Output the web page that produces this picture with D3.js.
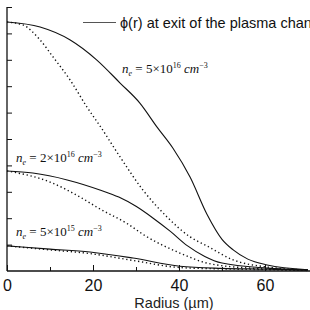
<!DOCTYPE html>
<html><head><meta charset="utf-8">
<script src="https://cdn.jsdelivr.net/npm/d3@7/dist/d3.min.js"></script>
<style>body{margin:0;background:#fff}svg{display:block}</style>
</head><body>
<svg id="c" width="310" height="310"></svg>
<script>
// Radius (µm) and phi values (arbitrary units, 0..10 axis)
const hiSolidR = [0, 7.7, 14.7, 20.9, 26.3, 30.9, 34.9, 38.6, 42.6, 46.5, 50, 52.6, 56, 60.5, 70];
const hiSolidV = [9.43, 9.24, 8.75, 7.99, 7.12, 6.36, 5.45, 4.65, 3.55, 2.15, 1.2, 0.80, 0.45, 0.23, 0.05];
const hiDotR = [0, 3.7, 7.7, 10.7, 14.7, 18.6, 21.6, 26.3, 31.6, 37.2, 42.6, 46.5, 52.6, 60.5, 70];
const hiDotV = [9.43, 9.32, 8.75, 8.11, 7.23, 6.21, 5.50, 4.32, 3.07, 2.05, 1.29, 0.95, 0.42, 0.15, 0.04];
const midSolidR = [0, 6.0, 14.0, 21.6, 26, 30, 34, 38, 42, 46, 50, 60.5, 70];
const midSolidV = [3.79, 3.71, 3.45, 3.07, 2.80, 2.45, 2.0, 1.5, 0.95, 0.55, 0.30, 0.11, 0.04];
const midDotR = [0, 10.0, 17.0, 21.6, 27.9, 32.0, 40.2, 46.5, 56.5, 70];
const midDotV = [3.79, 3.37, 2.80, 2.35, 1.80, 1.35, 0.68, 0.30, 0.11, 0.03];
const loSolidR = [0, 10, 19.3, 29.3, 40.2, 50, 60.5, 70];
const loSolidV = [0.95, 0.83, 0.72, 0.49, 0.18, 0.10, 0.07, 0.03];
const loDotR = [0, 10, 19.3, 29.3, 40.2, 50, 60.5, 70];
const loDotV = [0.95, 0.80, 0.66, 0.40, 0.13, 0.08, 0.05, 0.02];
const xTicks = [0, 20, 40, 60];
const xMinor = [10, 30, 50];
const yTicks = [1, 2, 3, 4, 5, 6, 7, 8, 9, 10];
const legendLabel = "ϕ(r) at exit of the plasma channel";
const xLabel = "Radius (µm)";

const svg = d3.select("#c");
const x = d3.scaleLinear().domain([0, 70]).range([7, 308]);
const y = d3.scaleLinear().domain([0, 10]).range([271, 7]);

const line = d3.line().x(d => x(d[0])).y(d => y(d[1])).curve(d3.curveMonotoneX);
const zip = (a, b) => a.map((v, i) => [v, b[i]]);

const series = [
  [hiSolidR, hiSolidV, false], [hiDotR, hiDotV, true],
  [midSolidR, midSolidV, false], [midDotR, midDotV, true],
  [loSolidR, loSolidV, false], [loDotR, loDotV, true]
];
const g = svg.append("g");
series.forEach(([r, v, dot]) => {
  g.append("path").attr("d", line(zip(r, v)))
    .attr("fill", "none").attr("stroke", "#111")
    .attr("stroke-width", dot ? 1.4 : 1.1)
    .attr("stroke-dasharray", dot ? "1.3,2.7" : null);
});

// axes
const xa = svg.append("g").attr("transform", "translate(0,271)")
  .call(d3.axisBottom(x).tickValues(xTicks).tickSize(-6).tickPadding(9).tickFormat(d3.format("d")));
xa.select(".domain").attr("d", "M7,0H310").attr("stroke", "#111").attr("stroke-width", 1.3);
xa.selectAll(".tick line").attr("stroke", "#111");
xa.selectAll(".tick text").attr("font-family", "Liberation Sans, Arial, sans-serif").attr("font-size", 16).attr("fill", "#111");
svg.append("g").attr("transform", "translate(0,271)")
  .call(d3.axisBottom(x).tickValues(xMinor).tickSize(-4).tickFormat(""))
  .call(s => s.select(".domain").remove())
  .selectAll(".tick line").attr("stroke", "#111");

const ya = svg.append("g").attr("transform", "translate(7,0)")
  .call(d3.axisLeft(y).tickValues(yTicks).tickSize(-5).tickFormat(""));
ya.select(".domain").attr("d", "M0,7V271").attr("stroke", "#111").attr("stroke-width", 1.3);
ya.selectAll(".tick line").attr("stroke", "#111");

svg.append("text").attr("x", 174).attr("y", 308).attr("text-anchor", "middle")
  .attr("font-family", "Liberation Sans, Arial, sans-serif").attr("font-size", 14.5).attr("fill", "#222")
  .text(xLabel);

// legend
svg.append("line").attr("x1", 83).attr("x2", 116).attr("y1", 22.5).attr("y2", 22.5)
  .attr("stroke", "#555").attr("stroke-width", 1.2);
svg.append("text").attr("x", 120).attr("y", 27.5)
  .attr("font-family", "Liberation Sans, Arial, sans-serif").attr("font-size", 14.5).attr("fill", "#111")
  .text(legendLabel);

// annotations
function annot(px, py, mant, exp) {
  const t = svg.append("text").attr("x", px).attr("y", py)
    .attr("font-family", "Liberation Serif, Times New Roman, serif").attr("font-size", 13).attr("fill", "#111");
  t.append("tspan").attr("font-style", "italic").text("n");
  t.append("tspan").attr("font-style", "italic").attr("font-size", 8).attr("dy", 3).text("e");
  t.append("tspan").attr("dy", -3).text(" = " + mant + "×10");
  t.append("tspan").attr("font-size", 8).attr("dy", -5).text(exp);
  t.append("tspan").attr("dy", 5).attr("font-style", "italic").text(" cm");
  t.append("tspan").attr("font-size", 8).attr("dy", -5).text("−3");
}
annot(122, 73, "5", "16");
annot(16, 162, "2", "16");
annot(16, 236, "5", "15");
</script>
</body></html>
